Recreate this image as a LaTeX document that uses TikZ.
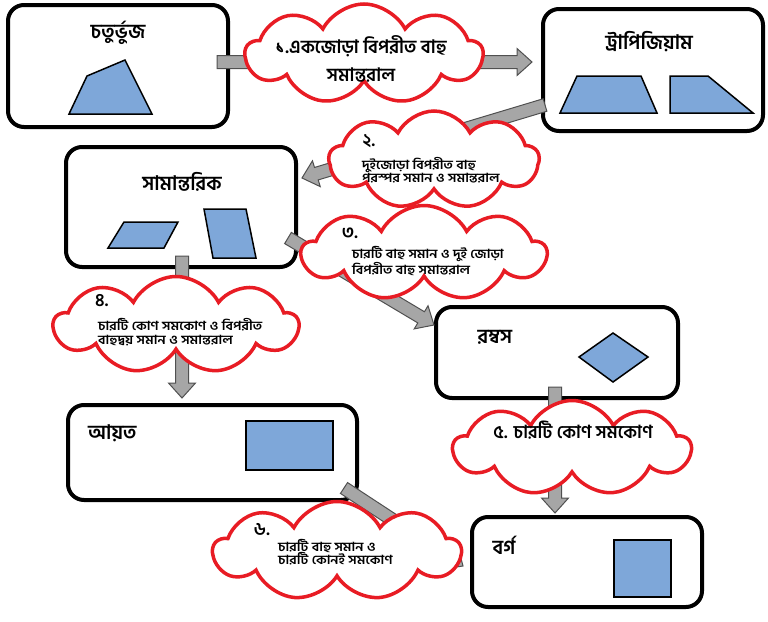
\documentclass[tikz,border=0pt]{standalone}
\usepackage{fontspec}
\newfontfamily\bn[Script=Bengali]{Hind Siliguri}
\newfontfamily\bnwide[Script=Bengali, FakeStretch=1.12]{Hind Siliguri}
\usetikzlibrary{shapes.symbols,calc}
\definecolor{shapeblue}{RGB}{126,167,217}
\definecolor{arrowgray}{RGB}{166,166,166}
\definecolor{arrowedge}{RGB}{80,80,80}
\definecolor{cloudred}{RGB}{232,28,36}
\tikzset{
 boxshape/.style={draw=black, line width=4pt, rounded corners=16pt, fill=white, inner sep=0pt},
 figshape/.style={draw=black, line width=1.5pt, fill=shapeblue, line join=miter},
 blockarr/.style={draw=arrowedge, line width=1pt, fill=arrowgray, line join=miter},
 bubble/.style={cloud, cloud puffs=9, cloud puff arc=125, draw=cloudred, line width=3.5pt, fill=white, inner sep=0pt},
 titletext/.style={font={\bn\bfseries\fontsize{20}{24}\selectfont}, inner sep=0pt},
 bigtext/.style={font={\bn\bfseries\fontsize{18.5}{28}\selectfont}, align=center, inner sep=0pt},
 numtext/.style={font={\bn\bfseries\fontsize{18}{20}\selectfont}, inner sep=0pt},
 smalltext/.style={font={\bnwide\bfseries\fontsize{12.5}{13.5}\selectfont}, align=left, inner sep=0pt, anchor=west},
}
\newcommand\blockarrow[2]{%
  \path ($(#2)!15pt!(#1)$) coordinate (hb);
  \draw[blockarr] ($(#1)!6.5pt!90:(#2)$) -- ($(hb)!6.5pt!90:(#2)$) -- ($(hb)!13.5pt!90:(#2)$) -- (#2)
     -- ($(hb)!13.5pt!-90:(#2)$) -- ($(hb)!6.5pt!-90:(#2)$) -- ($(#1)!6.5pt!-90:(#2)$) -- cycle;}
\begin{document}
\begin{tikzpicture}[x=1pt,y=-1pt]
\useasboundingbox (0,0) rectangle (768,621);
% boxes
\node[boxshape, minimum width=220pt, minimum height=122pt] (quad) at (118,66) {};
\node[boxshape, minimum width=220pt, minimum height=122pt] (trap) at (653,70) {};
\node[boxshape, minimum width=230pt, minimum height=120pt] (para) at (181,207) {};
\node[boxshape, minimum width=289pt, minimum height=95pt] (rect) at (212.5,452.5) {};
\node[boxshape, minimum width=242pt, minimum height=91pt] (rhomb) at (557,352.5) {};
\node[boxshape, minimum width=230pt, minimum height=90pt] (sq) at (587,562) {};
% titles
\node[titletext] (tquad) at (118,33) {চতুর্ভুজ};
\node[titletext] (ttrap) at (649,42) {ট্রাপিজিয়াম};
\node[titletext] (tpara) at (182,182) {সামান্তরিক};
\node[titletext, anchor=west] (trect) at (88,433) {আয়ত};
\node[titletext] (trhomb) at (495,337) {রম্বস};
\node[titletext] (tsq) at (504,545) {বর্গ};
% figures
\draw[figshape] (69,114) -- (87,76) -- (125,60) -- (152,114) -- cycle;
\draw[figshape] (560,113) -- (577,76) -- (641,76) -- (657,113) -- cycle;
\draw[figshape] (670,113) -- (670,76) -- (708,76) -- (753,113) -- cycle;
\draw[figshape] (108,248) -- (124,222) -- (178,222) -- (164,248) -- cycle;
\draw[figshape] (204,209) -- (246,209) -- (256,258) -- (213,258) -- cycle;
\draw[figshape] (246,421) rectangle (333,470);
\draw[figshape] (579,357) -- (613,333) -- (648,357) -- (613,382) -- cycle;
\draw[figshape] (614,540) rectangle (671,597);
% arrows
\coordinate (a1s) at (217,62);  \coordinate (a1e) at (532,62);
\coordinate (a2s) at (545,105); \coordinate (a2e) at (302,178);
\coordinate (a3s) at (288,238); \coordinate (a3e) at (434,325);
\coordinate (a4s) at (182,256); \coordinate (a4e) at (182,398);
\coordinate (a5s) at (555,387); \coordinate (a5e) at (555,513);
\coordinate (a6s) at (344,488); \coordinate (a6e) at (463,566);
\blockarrow{a1s}{a1e}
\blockarrow{a2s}{a2e}
\blockarrow{a3s}{a3e}
\blockarrow{a4s}{a4e}
\blockarrow{a5s}{a5e}
\blockarrow{a6s}{a6e}
% clouds
\node[bubble, minimum width=237pt, minimum height=100pt] (c1) at (364,54) {};
\node[bubble, minimum width=210pt, minimum height=98pt] (c2) at (434,160) {};
\node[bubble, minimum width=244pt, minimum height=95pt] (c3) at (424,253) {};
\node[bubble, minimum width=244pt, minimum height=97pt] (c4) at (176,325) {};
\node[bubble, minimum width=237pt, minimum height=95pt] (c5) at (572,448) {};
\node[bubble, minimum width=247pt, minimum height=99pt] (c6) at (337,551) {};
% cloud texts
\node[bigtext] (t1) at (361,59) {১.একজোড়া বিপরীত বাহু\\সমান্তরাল};
\node[numtext] (n2) at (369,141) {২.};
\node[smalltext] (t2) at (362,170) {দুইজোড়া বিপরীত বাহু\\পরস্পর সমান ও সমান্তরাল};
\node[numtext] (n3) at (350,233) {৩.};
\node[smalltext] (t3) at (352,261) {চারটি বাহু সমান ও দুই জোড়া\\বিপরীত বাহু সমান্তরাল};
\node[numtext] (n4) at (102,301) {৪.};
\node[smalltext] (t4) at (98,332) {চারটি কোণ সমকোণ ও বিপরীত\\বাহুদ্বয় সমান ও সমান্তরাল};
\node[bigtext, font={\bn\bfseries\fontsize{18}{24}\selectfont}] (t5) at (573,430) {৫. চারটি কোণ সমকোণ};
\node[numtext] (n6) at (262,530) {৬.};
\node[smalltext] (t6) at (278,552) {চারটি বাহু সমান ও\\চারটি কোনই সমকোণ};
\end{tikzpicture}
\end{document}
